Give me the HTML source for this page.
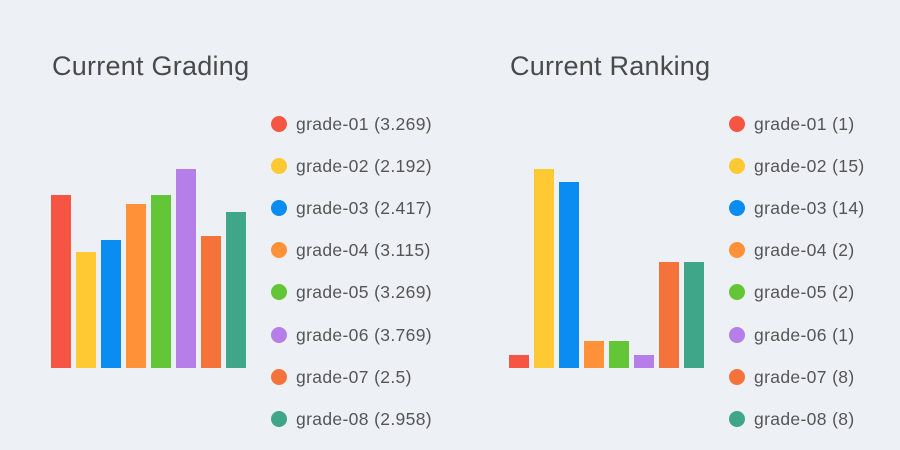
<!DOCTYPE html>
<html><head><style>
body{margin:0;width:900px;height:450px;background:#edf1f5;font-family:"Liberation Sans",sans-serif;overflow:hidden;position:relative}
.t{position:absolute;font-size:27px;color:#4a4a4a;top:51px;letter-spacing:0.25px}
.b{position:absolute;width:20px}
.l{position:absolute;font-size:17.5px;color:#555;line-height:20px;letter-spacing:0.35px}
.l i{position:absolute;left:-25px;top:2px;width:16px;height:16px;border-radius:50%}
</style></head><body>
<div class="t" style="left:52px">Current Grading</div>
<div class="t" style="left:510px">Current Ranking</div>
<div id="c"></div>
<script>
var cols=["#f55542","#ffc933","#0a8cf0","#ff9138","#63c636","#b57ee8","#f5733b","#3fa68a"];
var g=[3.269,2.192,2.417,3.115,3.269,3.769,2.5,2.958],r=[1,15,14,2,2,1,8,8];
var h="";
for(var i=0;i<8;i++){
 var hg=g[i]/3.769*199,hr=r[i]/15*199;
 h+='<div class="b" style="left:'+(51+25*i)+'px;top:'+(368-hg)+'px;height:'+hg+'px;background:'+cols[i]+'"></div>';
 h+='<div class="b" style="left:'+(509+25*i)+'px;top:'+(368-hr)+'px;height:'+hr+'px;background:'+cols[i]+'"></div>';
 var y=114+42.1*i;
 h+='<div class="l" style="left:296px;top:'+y+'px"><i style="background:'+cols[i]+'"></i>grade-0'+(i+1)+' ('+g[i]+')</div>';
 h+='<div class="l" style="left:754px;top:'+y+'px"><i style="background:'+cols[i]+'"></i>grade-0'+(i+1)+' ('+r[i]+')</div>';
}
document.getElementById("c").innerHTML=h;
</script>
</body></html>
